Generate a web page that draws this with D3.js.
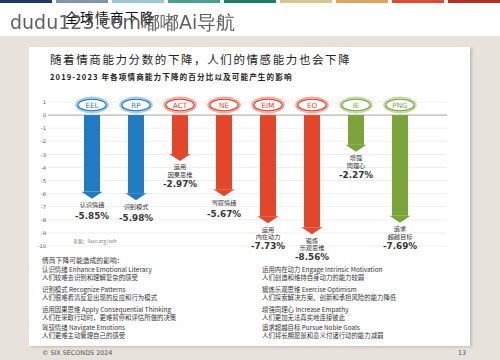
<!DOCTYPE html>
<html><head><meta charset="utf-8">
<script src="https://cdn.jsdelivr.net/npm/d3@7"></script>
<style>
html,body{margin:0;padding:0;background:#fff;}
svg{display:block;}
text{font-family:"Noto Sans CJK SC","Noto Sans",sans-serif;}
</style></head>
<body>
<svg id="c" width="500" height="360"></svg>
<script>
const codes = ["EEL","RP","ACT","NE","EIM","EO","IE","PNG"];
const names = [["认识情绪"],["识别模式"],["运用","因果思维"],["驾驭情绪"],["运用","内在动力"],["锻炼","乐观思维"],["增强","同理心"],["追求","超越目标"]];
const values = [-5.85,-5.98,-2.97,-5.67,-7.73,-8.56,-2.27,-7.69];
const groups = ["blue","blue","red","red","red","red","green","green"];
const yTicks = [1,0,-1,-2,-3,-4,-5,-6,-7,-8,-9,-10];
const stripColors = ["#1f3b63","#7d95a6","#9cc7d5","#4b9f8f","#1d7c6c","#d8c58d","#e5a25e","#df4a30","#b5321f"];
const leftNotes = [
  ["认识情绪 Enhance Emotional Literacy","人们较难去识别和理解复杂的感受"],
  ["识别模式 Recognize Patterns","人们很难看清反复出现的反应和行为模式"],
  ["运用因果思维 Apply Consequential Thinking","人们在采取行动时，更难暂停和评估所做的决策"],
  ["驾驭情绪 Navigate Emotions","人们更难主动管理自己的感受"]
];
const rightNotes = [
  ["运用内在动力 Engage Intrinsic Motivation","人们创造和维持自身动力的能力较弱"],
  ["锻炼乐观思维 Exercise Optimism","人们探索解决方案、创新和承担风险的能力降低"],
  ["增强同理心 Increase Empathy","人们更加无法真实地连接彼此"],
  ["追求超越目标 Pursue Noble Goals","人们将长期愿景和意义付诸行动的能力减弱"]
];
const palette = {blue:{main:"#1f7cc2",ring:"#a9cbe6"},red:{main:"#e4462b",ring:"#f1aa9c"},green:{main:"#7ba53a",ring:"#c4d9a3"}};

const svg = d3.select("#c");
svg.append("rect").attr("x",0).attr("y",0).attr("width",500).attr("height",360).attr("fill","#fff");
svg.append("rect").attr("x",0).attr("y",36).attr("width",500).attr("height",324).attr("fill","#e8e2dc");
const sx = d3.scaleBand().domain(d3.range(stripColors.length)).range([0,500]).paddingInner(0.07);
svg.selectAll(".strip").data(stripColors).join("rect").attr("x",(d,i)=>sx(i)).attr("y",0).attr("width",sx.bandwidth()).attr("height",3).attr("fill",d=>d);
svg.append("text").attr("x",65).attr("y",23).attr("font-size",13.5).attr("letter-spacing",1.5).attr("fill","#111").text("全球情商下降");
svg.append("text").attr("x",10).attr("y",29).attr("font-size",19).attr("fill","#4a4a4a").attr("opacity",0.88)
  .style("font-family","'DejaVu Sans',sans-serif").text("dudu123.com嘟嘟Ai导航");
const defs = svg.append("defs");
const f = defs.append("filter").attr("id","sh").attr("x","-5%").attr("y","-5%").attr("width","115%").attr("height","115%");
f.append("feDropShadow").attr("dx",2).attr("dy",1).attr("stdDeviation",1.5).attr("flood-color","#000").attr("flood-opacity",0.18);
svg.append("rect").attr("x",29).attr("y",47).attr("width",441).attr("height",299).attr("fill","#fff").attr("filter","url(#sh)");

svg.append("text").attr("x",50).attr("y",64).attr("font-size",11.5).attr("letter-spacing",1.6).attr("fill","#222")
  .text("随着情商能力分数的下降，人们的情感能力也会下降");
svg.append("text").attr("x",50).attr("y",80).attr("font-size",7.6).attr("font-weight",600).attr("letter-spacing",1.1).attr("fill","#222")
  .text("2019-2023 年各项情商能力下降的百分比以及可能产生的影响");

const y = d3.scaleLinear().domain([1,-10]).range([102,246]);
const x = d3.scaleBand().domain(codes).range([70,422]).padding(0);

svg.append("g").selectAll("line").data(yTicks).join("line")
  .attr("x1",48).attr("x2",447).attr("y1",d=>y(d)).attr("y2",d=>y(d))
  .attr("stroke",d=>d===0?"#9a9a9a":"#e2e2e2").attr("stroke-width",d=>d===0?0.9:0.6);
const ax = svg.append("g").attr("transform","translate(46,0)")
  .call(d3.axisLeft(y).tickValues(yTicks).tickSize(0).tickPadding(0).tickFormat(d=>String(d)));
ax.select(".domain").remove();
ax.selectAll("text").attr("font-size",5.2).attr("fill","#555").style("font-family","'DejaVu Sans',sans-serif");

const bw = 16, aw = 21, ah = 7;
const data = codes.map((c,i)=>({c,v:values[i],n:names[i],g:groups[i]}));
const bars = svg.append("g").selectAll("g").data(data).join("g")
  .attr("transform",d=>`translate(${x(d.c)+x.bandwidth()/2},0)`);
bars.append("rect").attr("x",-bw/2).attr("y",y(0)).attr("width",bw).attr("height",d=>y(d.v)-y(0)).attr("fill",d=>palette[d.g].main);
bars.append("path").attr("d",d=>`M${-aw/2},${y(d.v)}L${aw/2},${y(d.v)}L0,${y(d.v)+ah}Z`).attr("fill",d=>palette[d.g].main);
bars.append("ellipse").attr("cx",0).attr("cy",105).attr("rx",16).attr("ry",7.6).attr("fill","#fff").attr("stroke",d=>palette[d.g].ring).attr("stroke-width",1.6);
bars.append("ellipse").attr("cx",0).attr("cy",105).attr("rx",14.2).attr("ry",5.9).attr("fill","#fff").attr("stroke",d=>palette[d.g].main).attr("stroke-width",1.4);
bars.append("text").attr("x",0).attr("y",107.6).attr("text-anchor","middle").attr("font-size",7.2).attr("fill",d=>palette[d.g].main)
  .style("font-family","'DejaVu Sans',sans-serif").text(d=>d.c);
bars.each(function(d){
  const g = d3.select(this);
  const tip = y(d.v)+ah;
  d.n.forEach((t,j)=>{
    g.append("text").attr("x",0).attr("y",tip+8.5+j*7.6).attr("text-anchor","middle").attr("font-size",6.2).attr("fill","#333").text(t);
  });
  const last = tip+8.5+(d.n.length-1)*7.6;
  g.append("text").attr("x",0).attr("y",last+(d.n.length>1?10:12)).attr("text-anchor","middle").attr("font-size",8.8).attr("font-weight",700)
    .attr("fill","#333").style("font-family","'DejaVu Sans',sans-serif").text(d3.format(".2f")(d.v).replace("−","-")+"%");
});
svg.append("text").attr("x",73).attr("y",243).attr("font-size",4.8).attr("fill","#777").text("来源：6sec.org/soh");

svg.append("text").attr("x",42).attr("y",263).attr("font-size",6.8).attr("fill","#333").text("情商下降可能造成的影响：");
const rowsY = [272,292,312,330];
function notes(arr,x0){
  arr.forEach((n,i)=>{
    svg.append("text").attr("x",x0).attr("y",rowsY[i]).attr("font-size",6.4).attr("fill","#333").text(n[0]);
    svg.append("text").attr("x",x0).attr("y",rowsY[i]+7.5).attr("font-size",6.4).attr("fill","#333").text(n[1]);
  });
}
notes(leftNotes,42);
notes(rightNotes,262);

svg.append("text").attr("x",42).attr("y",355).attr("font-size",6.4).attr("fill","#555").style("font-family","'DejaVu Sans',sans-serif").text("© SIX SECONDS 2024");
svg.append("text").attr("x",458).attr("y",355).attr("font-size",6.4).attr("fill","#555").style("font-family","'DejaVu Sans',sans-serif").text("13");
</script>
</body></html>
